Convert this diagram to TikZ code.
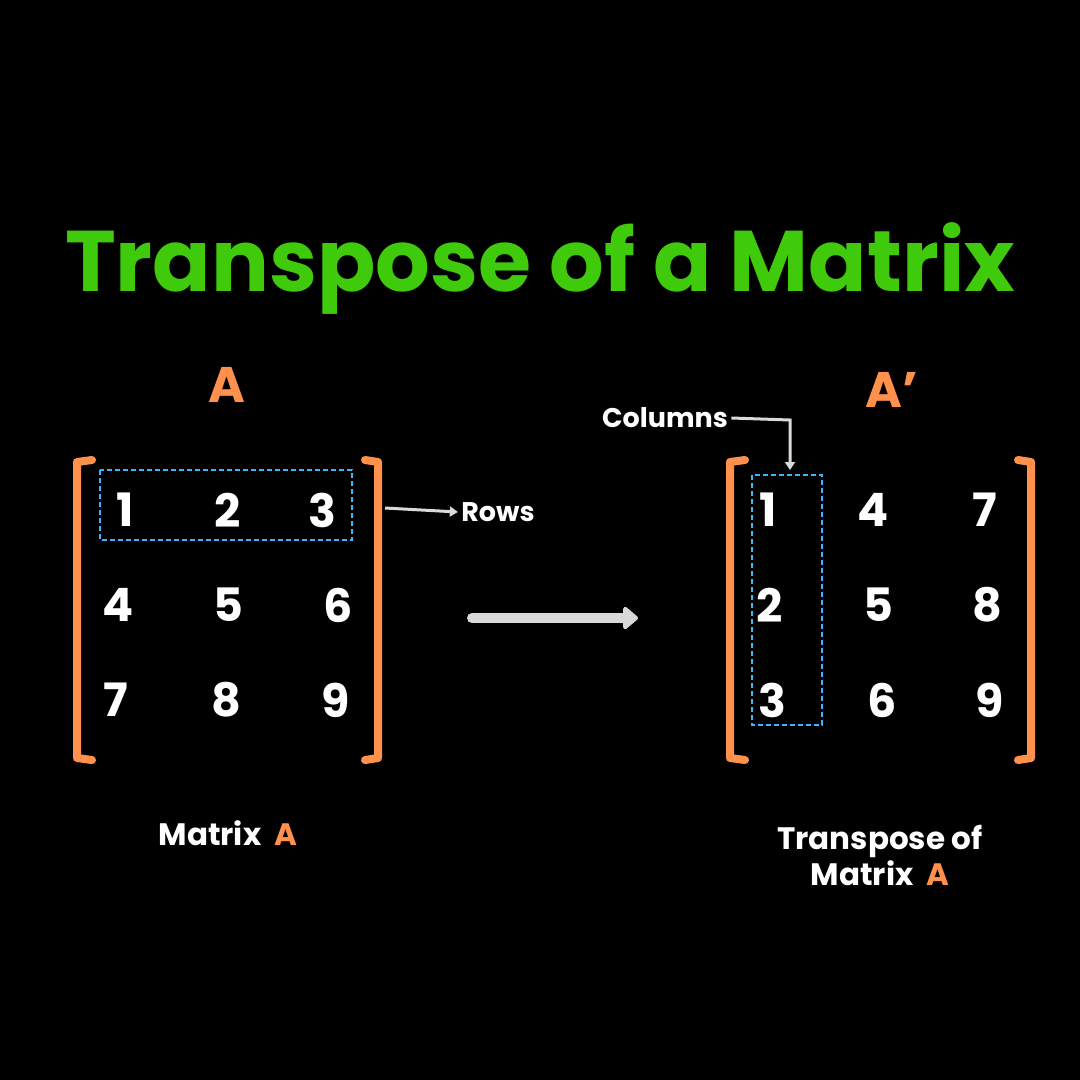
\documentclass[tikz,border=0pt]{standalone}
\usepackage{fontspec}
\setmainfont{Poppins}
\usetikzlibrary{arrows.meta}
\definecolor{org}{HTML}{FF914D}
\definecolor{grn}{HTML}{3FCB0C}
\definecolor{blu}{HTML}{38B6FF}
\definecolor{gry}{HTML}{D9D9D9}
\begin{document}
\begin{tikzpicture}[x=1pt,y=-1pt,
 num/.style={text=white,font=\fontsize{46}{46}\selectfont\bfseries\addfontfeature{FakeBold=0}},
 lbl/.style={text=white,font=\fontsize{31}{36}\selectfont\bfseries},
 brk/.style={org,line width=8pt,line cap=round,line join=round},
 dsh/.style={blu,line width=2pt,dash pattern=on 5pt off 3pt},
 arr/.style={gry,line width=4pt,-{Triangle[length=9pt,width=12pt]}}]
\fill[black] (0,0) rectangle (1080,1080);
\useasboundingbox (0,0) rectangle (1080,1080);
\node[text=grn,font=\fontsize{86}{86}\selectfont\bfseries] (title) at (540,268) {Transpose of a Matrix};
\node[text=org,font=\fontsize{50}{50}\selectfont\bfseries] (A) at (227,385) {A};
\node[text=org,font=\fontsize{50}{50}\selectfont\bfseries] (At) at (892,390) {A'};
% left brackets
\draw[brk] (92,460) -- (77,462) -- (77,758) -- (92,760);
\draw[brk] (365,460) -- (378,462) -- (378,758) -- (365,760);
\draw[brk] (745,460) -- (730,462) -- (730,758) -- (745,760);
\draw[brk] (1018,460) -- (1031,462) -- (1031,758) -- (1018,760);
% left numbers
\foreach \t/\x/\y [count=\i] in {1/125/510,2/228/510,3/322/510,4/118/605,5/228/605,6/338/605,7/116/700,8/226/700,9/336/700}
 \node[num] (l\i) at (\x,\y) {\t};
\foreach \t/\x/\y [count=\i] in {1/768/510,4/873/510,7/985/510,2/770/605,5/878/605,8/987/605,3/772/700,6/882/700,9/990/700}
 \node[num] (r\i) at (\x,\y) {\t};
\draw[dsh] (100,470) rectangle (352,540);
\draw[dsh] (752,475) rectangle (822,725);
\node[lbl,font=\fontsize{27}{30}\selectfont\bfseries] (rows) at (498,512) {Rows};
\coordinate (rs) at (385,508);
\draw[gry,line width=3pt,-{Triangle[length=8pt,width=10pt]}] (rs) -- (rows.west);
\node[lbl,font=\fontsize{27}{30}\selectfont\bfseries] (cols) at (665,418) {Columns};
\coordinate (ct) at (790,420);
\coordinate (cb) at (790,470);
\draw[gry,line width=3pt,-{Triangle[length=8pt,width=10pt]}] (cols.east) -- (ct) -- (cb);
\coordinate (bs) at (472,618);
\coordinate (be) at (638,618);
\draw[gry,line width=10pt,line cap=round,-{Triangle[length=16pt,width=26pt,round]}] (bs) -- (be);
\node[lbl] (ma) at (228,833) {Matrix \ \textcolor{org}{A}};
\node[lbl,align=center] (ta) at (880,855) {Transpose of\\Matrix \ \textcolor{org}{A}};
\end{tikzpicture}
\end{document}
